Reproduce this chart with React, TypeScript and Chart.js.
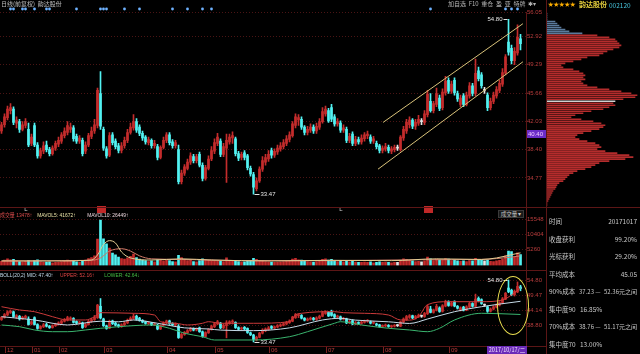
import React, { useEffect, useRef } from "react";
import { Chart, registerables } from "chart.js";

Chart.register(...registerables);

// ---------------- data ----------------
const candleOpen = [
  40.8, 41.6, 42.5, 43.4, 43.6, 41.8, 42.0, 41.0, 41.5, 41.0,
  39.2, 41.5, 39.0, 37.6, 38.2, 39.0, 38.4, 37.9, 38.6, 39.1,
  39.5, 40.2, 40.6, 41.0, 41.2, 40.1, 39.5, 39.6, 38.2, 39.0,
  40.1, 40.8, 41.5, 45.6, 41.0, 38.5, 37.7, 40.3, 39.5, 38.9,
  38.3, 38.9, 39.6, 40.6, 41.2, 42.0, 41.3, 40.5, 40.0, 39.3,
  39.6, 38.9, 38.8, 37.4, 38.7, 39.6, 40.3, 39.4, 38.9, 38.4,
  34.3, 35.4, 36.0, 36.8, 37.5, 37.0, 37.8, 36.4, 34.7, 36.0,
  37.2, 38.2, 39.2, 39.5, 37.8, 38.6, 39.4, 39.9, 39.8, 37.9,
  37.4, 38.0, 37.6, 36.0, 35.2, 33.4, 34.4, 35.9, 36.8, 37.2,
  38.3, 37.7, 38.1, 38.5, 38.8, 39.2, 39.7, 40.2, 41.5, 42.2,
  42.3, 41.3, 40.6, 40.9, 41.3, 40.8, 41.3, 42.0, 43.0, 43.4,
  43.8, 42.6, 41.7, 41.8, 40.9, 41.0, 39.6, 40.4, 39.2, 39.7,
  39.4, 39.8, 40.2, 40.0, 39.5, 39.2, 38.9, 38.3, 38.5, 38.7,
  38.2, 38.4, 38.6, 38.4, 39.9, 40.8, 41.6, 42.2, 41.4, 41.8,
  42.0, 41.9, 42.9, 44.6, 43.4, 44.2, 45.0, 43.8, 45.7, 47.3,
  45.9, 47.3, 45.6, 44.2, 45.3, 44.2, 45.3, 46.6, 45.6, 48.5,
  48.0, 46.0, 45.4, 43.8, 44.6, 45.3, 46.0, 46.8, 48.2, 52.2,
  51.4, 49.8, 50.8, 52.6,
];
const candleHigh = [
  41.9, 43.0, 44.0, 44.3, 43.9, 42.6, 42.3, 42.0, 42.4, 41.8,
  40.4, 41.8, 39.3, 38.6, 39.4, 39.5, 38.7, 38.9, 39.5, 40.0,
  40.6, 41.2, 42.0, 41.8, 41.5, 40.4, 40.2, 39.9, 39.4, 40.5,
  41.3, 42.3, 46.3, 48.4, 41.3, 38.8, 40.6, 40.6, 39.8, 39.2,
  39.3, 40.0, 41.0, 41.8, 42.9, 42.4, 41.6, 40.8, 40.2, 40.0,
  39.8, 39.6, 39.1, 38.9, 40.0, 40.6, 40.6, 39.7, 39.6, 39.0,
  35.8, 36.5, 37.2, 38.0, 37.8, 37.8, 38.1, 36.7, 36.4, 37.6,
  38.8, 39.8, 40.5, 39.8, 39.2, 40.4, 40.4, 40.7, 40.0, 38.2,
  38.1, 38.3, 37.8, 36.3, 35.5, 34.8, 36.2, 37.5, 37.8, 38.3,
  38.6, 38.5, 39.0, 39.3, 39.7, 40.2, 40.7, 42.0, 43.0, 42.9,
  42.6, 41.5, 41.4, 41.7, 41.6, 41.8, 42.4, 43.8, 44.0, 43.7,
  44.2, 42.9, 42.4, 42.1, 41.6, 41.3, 40.5, 40.7, 40.1, 40.0,
  40.3, 40.6, 40.8, 40.3, 40.1, 39.5, 39.1, 38.9, 39.2, 39.0,
  38.8, 39.0, 39.0, 40.2, 41.4, 42.3, 42.6, 42.4, 42.3, 42.8,
  42.4, 43.4, 46.0, 45.6, 44.6, 46.3, 45.4, 46.2, 47.8, 47.6,
  47.2, 47.6, 45.9, 45.4, 45.6, 45.8, 47.0, 46.9, 50.0, 49.0,
  48.3, 46.4, 45.7, 45.0, 45.8, 46.5, 47.3, 48.8, 50.6, 55.1,
  51.8, 51.5, 54.4, 53.2,
];
const candleLow = [
  40.5, 41.3, 42.2, 43.0, 41.6, 41.2, 40.6, 40.8, 41.2, 38.8,
  38.9, 38.8, 37.3, 37.3, 37.9, 38.1, 37.6, 37.7, 38.3, 38.8,
  39.2, 39.9, 40.3, 40.6, 39.5, 39.2, 39.2, 37.6, 37.9, 38.8,
  39.8, 40.5, 41.2, 41.0, 38.3, 37.3, 37.5, 39.0, 38.5, 38.0,
  38.0, 38.6, 39.3, 40.4, 40.9, 40.6, 40.2, 39.6, 39.1, 39.0,
  38.6, 38.6, 37.1, 37.2, 38.5, 39.3, 39.0, 38.6, 38.6, 34.0,
  34.0, 35.1, 35.8, 36.5, 36.7, 36.7, 36.2, 34.4, 34.5, 35.8,
  37.0, 37.9, 38.9, 37.5, 37.5, 34.2, 39.1, 39.2, 37.6, 37.0,
  37.1, 37.1, 35.8, 35.0, 32.7, 33.1, 34.2, 35.6, 36.4, 36.9,
  37.3, 37.4, 37.8, 38.2, 38.5, 38.9, 39.4, 40.0, 41.2, 41.5,
  41.0, 40.3, 40.3, 40.6, 40.5, 40.5, 41.0, 41.8, 42.7, 41.9,
  42.0, 41.4, 41.4, 40.6, 40.6, 39.3, 39.3, 38.9, 38.9, 39.1,
  39.1, 39.5, 39.8, 39.2, 39.2, 38.5, 38.0, 38.0, 38.2, 38.0,
  37.9, 38.1, 38.3, 38.2, 39.6, 40.5, 41.2, 41.1, 41.0, 41.5,
  41.6, 41.6, 42.6, 43.2, 43.1, 43.9, 43.4, 43.5, 45.4, 45.6,
  45.6, 45.4, 44.6, 43.9, 43.9, 44.0, 45.0, 45.3, 45.3, 47.2,
  46.3, 45.6, 43.4, 43.5, 44.3, 45.0, 45.7, 46.5, 48.0, 50.5,
  49.4, 49.3, 50.5, 51.2,
];
const candleClose = [
  41.6, 42.6, 43.6, 43.8, 41.9, 42.2, 41.0, 41.6, 42.0, 39.0,
  40.0, 39.0, 37.6, 38.3, 38.9, 38.4, 37.9, 38.6, 39.2, 39.6,
  40.3, 40.8, 41.5, 41.3, 39.8, 39.5, 39.9, 37.9, 39.0, 40.2,
  40.8, 41.6, 46.0, 41.4, 38.6, 37.6, 40.2, 39.3, 38.8, 38.3,
  38.9, 39.6, 40.6, 41.3, 42.0, 40.9, 40.5, 39.9, 39.4, 39.7,
  38.9, 39.2, 37.4, 38.7, 39.6, 40.3, 39.3, 38.9, 39.3, 34.3,
  35.4, 36.2, 36.8, 37.6, 37.0, 37.5, 36.4, 34.7, 36.1, 37.2,
  38.3, 39.3, 40.0, 37.8, 38.8, 39.6, 40.0, 40.2, 37.9, 37.3,
  37.8, 37.4, 36.1, 35.3, 33.6, 34.4, 35.9, 37.0, 37.4, 37.8,
  37.7, 38.2, 38.6, 38.9, 39.3, 39.8, 40.3, 41.7, 42.6, 42.5,
  41.3, 40.6, 41.0, 41.3, 40.8, 41.4, 42.0, 43.3, 43.6, 42.1,
  42.3, 41.7, 42.0, 40.9, 41.2, 39.6, 40.1, 39.2, 39.7, 39.4,
  39.9, 40.3, 40.4, 39.5, 39.8, 38.8, 38.3, 38.6, 38.8, 38.3,
  38.5, 38.7, 38.6, 40.0, 41.0, 41.9, 42.2, 41.4, 41.9, 42.3,
  42.0, 43.0, 45.5, 43.4, 44.3, 45.6, 43.7, 45.8, 47.2, 45.9,
  46.8, 45.7, 44.9, 45.0, 44.2, 45.4, 46.6, 45.6, 48.2, 47.5,
  46.6, 46.0, 43.8, 44.6, 45.4, 46.1, 46.9, 48.3, 50.3, 50.9,
  49.8, 51.0, 52.8, 52.0,
];
const volumes = [
  1400, 1800, 2200, 1900, 2000, 1500, 1300, 1200, 1400, 1700,
  1300, 1600, 1900, 1200, 1000, 1100, 1200, 900, 1000, 1100,
  1300, 1400, 1800, 1500, 1400, 1200, 1000, 1500, 1800, 2300,
  2600, 3200, 8800, 15200, 8900, 7200, 5800, 4100, 3500, 2800,
  2300, 2100, 2500, 3000, 3800, 2600, 2100, 1800, 1600, 1300,
  1500, 1200, 1900, 1800, 1500, 1700, 1600, 1300, 1200, 3400,
  2600, 1900, 1600, 1700, 1300, 1200, 1600, 2200, 1900, 1700,
  1800, 1600, 1500, 1400, 1300, 2500, 1600, 1400, 1500, 1300,
  1100, 1200, 1500, 1600, 2400, 2000, 1700, 1500, 1300, 1200,
  1100, 1000, 1100, 1200, 1300, 1400, 1500, 2100, 2400, 1900,
  1800, 1500, 1300, 1200, 1100, 1300, 1400, 2000, 2200, 1800,
  2000, 1700, 1300, 1500, 1200, 1600, 1200, 1400, 1100, 1000,
  1000, 1100, 1000, 1200, 900, 1000, 1200, 1000, 1100, 1000,
  900, 1000, 1000, 1600, 2200, 2000, 1700, 1500, 1300, 1400,
  1200, 1500, 2800, 2200, 1600, 2100, 1900, 1800, 2300, 2100,
  1600, 1800, 1500, 1400, 1500, 1300, 1600, 1500, 2400, 2000,
  1900, 1500, 1800, 1400, 1300, 1500, 1700, 2100, 3200, 4800,
  4600, 2800, 4200, 3600,
];

// moving average of volume, read at a few candles: [candle index, value]
const mavol5 = [
  [0, 1500], [20, 1500], [30, 1800], [32, 3500], [34, 7000], [36, 8300], [38, 7500],
  [40, 4500], [43, 2500], [50, 1800], [60, 2200], [70, 1800], [90, 1500], [110, 1700],
  [130, 1600], [145, 2200], [160, 2000], [165, 2500], [170, 3600], [173, 4200],
];
const mavol10 = [
  [0, 1500], [30, 1700], [33, 2500], [36, 4800], [40, 5600], [43, 4800], [46, 3200],
  [50, 2200], [60, 2000], [80, 1600], [110, 1600], [140, 1900], [160, 2000], [170, 2800], [173, 3200],
];

// Bollinger bands: [candle index, price]
const bollUpper = [
  [0, 45.45], [6, 44.26], [11, 43.65], [17, 41.84], [22, 40.65], [28, 40.65], [31, 41.84],
  [33, 43.29], [44, 43.07], [51, 42.45], [53, 40.03], [58, 39.46], [62, 38.84], [67, 39.46],
  [69, 40.03], [73, 39.46], [84, 39.46], [96, 40.03], [98, 42.45], [100, 43.07], [111, 43.65],
  [114, 43.29], [121, 43.07], [129, 42.45], [133, 40.65], [136, 40.6], [139, 41.84], [142, 46.2],
  [149, 47.26], [160, 47.26], [167, 47.87], [170, 49.68], [173, 52.16],
];
const bollMid = [
  [0, 41.84], [11, 40.65], [22, 38.84], [33, 40.2], [39, 40.0], [44, 40.65], [52, 39.46],
  [61, 37.8], [69, 37.4], [73, 37.0], [84, 36.8], [96, 37.8], [107, 40.65], [113, 41.26],
  [118, 40.6], [129, 40.0], [136, 39.4], [142, 41.0], [151, 43.65], [160, 45.45], [173, 47.4],
];
const bollLower = [
  [0, 38.84], [6, 38.23], [11, 37.04], [17, 36.42], [22, 36.42], [28, 37.04], [33, 37.65],
  [39, 38.23], [50, 38.84], [56, 37.65], [61, 35.84], [67, 34.61], [71, 33.42], [84, 33.42],
  [96, 34.61], [102, 36.42], [111, 39.46], [113, 40.03], [120, 38.84], [129, 37.65], [136, 37.04],
  [142, 36.42], [146, 37.65], [151, 40.65], [160, 43.07], [173, 42.64],
];

// trend channel drawn on the price panel: [candle index, price]
const channelUpper = [[127.2, 41.9], [173.8, 54.55]];
const channelLower = [[125.5, 35.9], [173.8, 49.67]];

// chip distribution (cost profile), one value per price level from top to bottom
const chipValues = [
  0, 0, 0, 0,
  8, 10, 12, 14, 18, 22, 35, 50, 62, 68,
  70, 72, 74, 72, 66, 60, 56, 52, 40, 34,
  26, 18, 14, 16, 26, 32, 36, 38, 36, 38,
  34, 36, 40, 50, 62, 74, 84, 90, 88, 76,
  68, 66, 68, 62, 56, 44, 36, 28, 24, 34,
  46, 54, 58, 56, 52, 44, 36, 30, 28, 32,
  40, 48, 52, 54, 50, 58, 70, 82, 86, 78,
  62, 52, 48, 44, 38, 30, 26, 22, 20, 18,
  16, 12, 10, 9, 8, 6, 5, 4, 3, 2,
  1, 0, 0,
];
const chipBlueUntil = 10;
const chipAvgLevel = 44;

// axis ticks
const priceTicks = [56.05, 52.92, 49.29, 45.66, 42.03, 38.4, 34.77];
const volumeTicks = [15548, 10404, 5260];
const bollTicks = [54.8, 49.47, 44.14, 38.8];
const monthTickIdx = [1, 10, 19, 34, 55, 71, 89, 108, 127, 149];
const monthTickText = ["12", "01", "02", "03", "04", "05", "06", "07", "08", "09"];

// event markers
const eventIdx = [3, 4, 7, 8, 11, 15, 16, 25, 33, 34, 35, 41, 46, 57, 62, 67, 70, 143, 168, 170, 172];
const markerIdx = [8, 33, 113, 142];
const markerText = ["L", "", "L", ""];
const markerBoxed = [false, true, false, true];

const highLabel = "54.80";
const lowLabel = "33.47";
const cursorPrice = 40.4;

// ---------------- styling ----------------
const UP = "#c42c2c";
const DOWN = "#52f2f2";
const FLAT = "#e6e6e6";
const AXIS_TXT = "#b83c3c";
const GRID = "#4a1414";
const X_MIN = -0.5;
const X_MAX = 174.83;
const AXIS_W = 20;
const SMALL = '6px "Liberation Sans", Arial, sans-serif';

const idx = candleOpen.map((_, i) => i);
const colorOf = (i: number) =>
  candleClose[i] > candleOpen[i] ? UP : candleClose[i] < candleOpen[i] ? DOWN : FLAT;

const argMax = (a: number[]) => a.reduce((b, v, i) => (v > a[b] ? i : b), 0);
const argMin = (a: number[]) => a.reduce((b, v, i) => (v < a[b] ? i : b), 0);

function candleSets() {
  const colors = idx.map(colorOf);
  return [
    {
      type: "bar",
      data: idx.map((i) => ({ x: i, y: [candleLow[i], candleHigh[i]] })),
      backgroundColor: colors,
      barThickness: 1,
      maxBarThickness: 1,
      grouped: false,
      minBarLength: 1,
      order: 3,
    },
    {
      type: "bar",
      data: idx.map((i) => ({
        x: i,
        y: [Math.min(candleOpen[i], candleClose[i]), Math.max(candleOpen[i], candleClose[i])],
      })),
      backgroundColor: colors,
      barThickness: 2,
      maxBarThickness: 2,
      grouped: false,
      minBarLength: 1,
      order: 2,
    },
  ];
}

function lineSet(pts: number[][], color: string, order = 1) {
  return {
    type: "line",
    data: pts.map(([x, y]) => ({ x, y })),
    borderColor: color,
    borderWidth: 1,
    pointRadius: 0,
    fill: false,
    cubicInterpolationMode: "monotone",
    order,
  };
}

function xHidden() {
  return { type: "linear", min: X_MIN, max: X_MAX, offset: false, display: false };
}

function yRight(min: number, max: number, ticks: number[], fmt: (v: any) => string) {
  return {
    position: "right",
    min,
    max,
    afterFit: (s: any) => {
      s.width = AXIS_W;
    },
    afterBuildTicks: (s: any) => {
      s.ticks = ticks.map((v) => ({ value: v }));
    },
    ticks: { color: AXIS_TXT, font: { size: 6 }, padding: 1, callback: fmt },
    grid: { color: GRID, drawTicks: false, lineWidth: 1 },
    border: { display: false, dash: [1, 2] },
  };
}

const baseOpts = {
  responsive: false,
  animation: false,
  devicePixelRatio: 1,
  plugins: { legend: { display: false }, tooltip: { enabled: false } },
};

function drawExtremes(chart: any) {
  const { ctx } = chart;
  const xs = chart.scales.x;
  const ys = chart.scales.y;
  const hi = argMax(candleHigh);
  const lo = argMin(candleLow);
  ctx.save();
  ctx.font = SMALL;
  ctx.fillStyle = "#e4e4e4";
  ctx.strokeStyle = "#e4e4e4";
  ctx.lineWidth = 1;
  ctx.textBaseline = "middle";
  let x = xs.getPixelForValue(hi);
  let y = Math.round(ys.getPixelForValue(candleHigh[hi])) + 0.5;
  ctx.beginPath();
  ctx.moveTo(x - 1, y);
  ctx.lineTo(x - 5, y);
  ctx.stroke();
  ctx.textAlign = "right";
  ctx.fillText(highLabel, x - 6, y);
  x = xs.getPixelForValue(lo);
  y = Math.round(ys.getPixelForValue(candleLow[lo])) + 0.5;
  ctx.beginPath();
  ctx.moveTo(x + 1, y);
  ctx.lineTo(x + 6, y);
  ctx.stroke();
  ctx.textAlign = "left";
  ctx.fillText(lowLabel, x + 7, y);
  ctx.restore();
}

const mainMarks = {
  id: "mainMarks",
  afterDatasetsDraw(chart: any) {
    const { ctx, chartArea: a } = chart;
    const xs = chart.scales.x;
    const ys = chart.scales.y;
    ctx.save();
    ctx.fillStyle = "#6eb2ff";
    eventIdx.forEach((i) => {
      ctx.beginPath();
      ctx.arc(xs.getPixelForValue(i), a.top - 3, 1.4, 0, Math.PI * 2);
      ctx.fill();
    });
    const y = ys.getPixelForValue(cursorPrice);
    ctx.fillStyle = "#6a2cc8";
    ctx.fillRect(a.right + 1, Math.round(y) - 4, 19, 8);
    ctx.fillStyle = "#f0c8ff";
    ctx.font = SMALL;
    ctx.textBaseline = "middle";
    ctx.textAlign = "left";
    ctx.fillText(cursorPrice.toFixed(2), a.right + 2, Math.round(y));
    ctx.restore();
    drawExtremes(chart);
  },
};

const volMarks = {
  id: "volMarks",
  afterDatasetsDraw(chart: any) {
    const { ctx } = chart;
    const xs = chart.scales.x;
    ctx.save();
    ctx.font = SMALL;
    ctx.textAlign = "center";
    ctx.textBaseline = "middle";
    markerIdx.forEach((i, k) => {
      const x = Math.round(xs.getPixelForValue(i));
      if (markerBoxed[k]) {
        ctx.fillStyle = "#c02828";
        ctx.fillRect(x - 4, 0, 9, 7);
        ctx.fillStyle = "#ffffff";
        ctx.fillText(markerText[k], x + 0.5, 3.5);
      } else {
        ctx.fillStyle = "#d0d0d0";
        ctx.fillText(markerText[k], x, 3.5);
      }
    });
    ctx.restore();
  },
};

const bollMarks = {
  id: "bollMarks",
  afterDatasetsDraw(chart: any) {
    const { ctx, chartArea: a } = chart;
    const xs = chart.scales.x;
    drawExtremes(chart);
    ctx.save();
    ctx.font = SMALL;
    ctx.textBaseline = "top";
    ctx.textAlign = "left";
    monthTickIdx.forEach((v, k) => {
      const x = Math.round(xs.getPixelForValue(v));
      ctx.fillStyle = "#7a2020";
      ctx.fillRect(x, a.bottom + 1, 1, 6);
      ctx.fillStyle = AXIS_TXT;
      ctx.fillText(monthTickText[k], x + 2, a.bottom + 1.5);
    });
    ctx.restore();
  },
};

function buildMain(): any {
  return {
    type: "bar",
    data: {
      datasets: [
        ...candleSets(),
        lineSet(channelUpper, "#d8c27a", 1),
        lineSet(channelLower, "#d8c27a", 1),
      ],
    },
    options: {
      ...baseOpts,
      layout: { padding: { top: 12, left: 0, right: 0, bottom: 0 } },
      scales: {
        x: xHidden(),
        y: yRight(31.77, 56.05, priceTicks, (v) => Number(v).toFixed(2)),
      },
    },
    plugins: [mainMarks],
  };
}

function buildVolume(): any {
  const colors = idx.map(colorOf);
  return {
    type: "bar",
    data: {
      datasets: [
        {
          type: "bar",
          data: idx.map((i) => ({ x: i, y: volumes[i] })),
          backgroundColor: colors,
          barThickness: 2,
          maxBarThickness: 2,
          grouped: false,
          order: 2,
        },
        lineSet(mavol5, "#e2cc92", 1),
        lineSet(mavol10, "#d07a68", 1),
      ],
    },
    options: {
      ...baseOpts,
      layout: { padding: { top: 13, left: 0, right: 0, bottom: 2 } },
      scales: {
        x: xHidden(),
        y: yRight(0, 15548, volumeTicks, (v) => String(v)),
      },
    },
    plugins: [volMarks],
  };
}

function buildBoll(): any {
  return {
    type: "bar",
    data: {
      datasets: [
        ...candleSets(),
        lineSet(bollUpper, "#cc3a3a", 1),
        lineSet(bollMid, "#c6dbe8", 1),
        lineSet(bollLower, "#3ab46e", 1),
      ],
    },
    options: {
      ...baseOpts,
      layout: { padding: { top: 7, left: 0, right: 0, bottom: 8 } },
      scales: {
        x: xHidden(),
        y: yRight(31.25, 56.18, bollTicks, (v) => Number(v).toFixed(2)),
      },
    },
    plugins: [bollMarks],
  };
}

function buildChip(): any {
  return {
    type: "bar",
    data: {
      labels: chipValues.map((_, k) => String(k)),
      datasets: [
        {
          data: chipValues,
          backgroundColor: chipValues.map((_, k) =>
            k <= chipBlueUntil ? "#5a7a9c" : k === chipAvgLevel ? "#d0d0d0" : "#b42c2c"
          ),
          barThickness: 1,
          maxBarThickness: 1,
        },
      ],
    },
    options: {
      ...baseOpts,
      indexAxis: "y",
      layout: { padding: { top: 12.5, left: 0, right: 0, bottom: 0 } },
      scales: {
        x: { min: 0, max: 93, display: false },
        y: { display: false },
      },
    },
  };
}

// ---------------- layout helpers ----------------
function Txt(props: any) {
  const { x, y, r, s = 6, c = "#c8c8c8", sx, b, children } = props;
  const st: any = {
    position: "absolute",
    top: y,
    fontSize: s,
    color: c,
    lineHeight: 1,
    whiteSpace: "nowrap",
  };
  if (r !== undefined) st.right = r;
  else st.left = x;
  if (sx) {
    st.transform = `scaleX(${sx})`;
    st.transformOrigin = r !== undefined ? "right center" : "left center";
  }
  if (b) st.fontWeight = "bold";
  return <div style={st}>{children}</div>;
}

function Line(props: any) {
  const { x, y, w, h, c = "#5c1616" } = props;
  return <div style={{ position: "absolute", left: x, top: y, width: w, height: h, background: c }} />;
}

export default function App() {
  const mainRef = useRef<HTMLCanvasElement | null>(null);
  const volRef = useRef<HTMLCanvasElement | null>(null);
  const bollRef = useRef<HTMLCanvasElement | null>(null);
  const chipRef = useRef<HTMLCanvasElement | null>(null);

  useEffect(() => {
    Chart.defaults.font.family = '"Liberation Sans", Arial, sans-serif';
    const charts = [
      new Chart(mainRef.current as HTMLCanvasElement, buildMain()),
      new Chart(volRef.current as HTMLCanvasElement, buildVolume()),
      new Chart(bollRef.current as HTMLCanvasElement, buildBoll()),
      new Chart(chipRef.current as HTMLCanvasElement, buildChip()),
    ];
    return () => charts.forEach((c) => c.destroy());
  }, []);

  const cjk = '"Noto Sans CJK SC", "Noto Sans", sans-serif';
  const lat = '"Liberation Sans", Arial, sans-serif';
  const rowY = [218, 235.5, 253, 270.5, 288, 305.5, 323, 340.5];

  return (
    <div
      style={{
        position: "fixed",
        left: 0,
        top: 0,
        width: 640,
        height: 354,
        background: "#000",
        overflow: "hidden",
        fontFamily: cjk,
      }}
    >
      <canvas ref={mainRef} width={546} height={206} style={{ position: "absolute", left: 0, top: 0, width: 546, height: 206 }} />
      <canvas ref={volRef} width={546} height={64} style={{ position: "absolute", left: 0, top: 206, width: 546, height: 64 }} />
      <canvas ref={bollRef} width={546} height={84} style={{ position: "absolute", left: 0, top: 270, width: 546, height: 84 }} />
      <canvas ref={chipRef} width={93} height={206} style={{ position: "absolute", left: 547, top: 0, width: 93, height: 206 }} />

      {/* separators */}
      <Line x={526} y={12} w={1} h={342} />
      <Line x={546} y={0} w={1} h={354} />
      <Line x={0} y={207} w={640} h={1} />
      <Line x={0} y={270} w={546} h={1} />
      <Line x={0} y={346} w={546} h={1} />

      {/* top header */}
      <Txt x={1} y={1} s={6} c="#bdbdbd">日线(前复权)&nbsp;&nbsp;韵达股份</Txt>
      <Txt x={448} y={1} s={6} c="#b4b4b4">加自选&nbsp;&nbsp;F10&nbsp;&nbsp;重仓&nbsp;&nbsp;盈&nbsp;&nbsp;亚&nbsp;&nbsp;特牌&nbsp;&nbsp;✱▾</Txt>
      <Txt x={548} y={1.5} s={5.5} c="#ffb000">★★★★★</Txt>
      <Txt x={579} y={0.5} s={7} c="#e6cf3c" b>韵达股份</Txt>
      <Txt x={609} y={1.5} s={6.5} c="#46c4dc">002120</Txt>

      {/* volume header */}
      <div style={{ position: "absolute", left: 0, top: 212, fontSize: 6, lineHeight: 1, whiteSpace: "nowrap", transform: "scaleX(0.82)", transformOrigin: "left center", fontFamily: lat }}>
        <span style={{ color: "#d84a4a", fontFamily: cjk }}>成交量</span>
        <span style={{ color: "#d84a4a" }}> 13478↑</span>
        <span style={{ color: "#ece4a8", marginLeft: 6 }}>MAVOL5: 41672↑</span>
        <span style={{ color: "#ead4dc", marginLeft: 14 }}>MAVOL10: 26449↑</span>
      </div>
      <div style={{ position: "absolute", left: 498, top: 210, width: 26, height: 8, background: "#1a1a1a", border: "1px solid #3a3a3a", boxSizing: "border-box", color: "#c0c0c0", fontSize: 5.5, lineHeight: "6px", textAlign: "center", whiteSpace: "nowrap" }}>
        成交量 ▾
      </div>

      {/* BOLL header */}
      <div style={{ position: "absolute", left: 0, top: 272, fontSize: 6, lineHeight: 1, whiteSpace: "nowrap", transform: "scaleX(0.82)", transformOrigin: "left center", fontFamily: lat }}>
        <span style={{ color: "#c4dcec" }}>BOLL(20,2) MID: 47.40↑</span>
        <span style={{ color: "#e04444", marginLeft: 8 }}>UPPER: 52.16↑</span>
        <span style={{ color: "#44c044", marginLeft: 12 }}>LOWER: 42.64↓</span>
      </div>

      {/* highlight ellipse */}
      <div style={{ position: "absolute", left: 497, top: 276, width: 32, height: 59, border: "1.5px solid #ece050", borderRadius: "50%", boxSizing: "border-box" }} />

      {/* current date tag */}
      <div style={{ position: "absolute", left: 487, top: 346, width: 40, height: 8, background: "#6a2ab8", color: "#f0e0ff", fontSize: 5.5, lineHeight: "8px", textAlign: "center", whiteSpace: "nowrap" }}>
        2017/10/17/二
      </div>

      {/* chip info panel */}
      <Txt x={549} y={rowY[0]} s={6.5}>时间</Txt>
      <Txt r={3} y={rowY[0]} s={6.5}>20171017</Txt>
      <Txt x={549} y={rowY[1]} s={6.5}>收盘获利</Txt>
      <Txt r={3} y={rowY[1]} s={6.5}>99.20%</Txt>
      <Txt x={549} y={rowY[2]} s={6.5}>光标获利</Txt>
      <Txt r={3} y={rowY[2]} s={6.5}>29.20%</Txt>
      <Txt x={549} y={rowY[3]} s={6.5}>平均成本</Txt>
      <Txt r={3} y={rowY[3]} s={6.5}>45.05</Txt>
      <Txt x={549} y={rowY[4]} s={6.5}>90%成本</Txt>
      <Txt x={579} y={rowY[4] + 0.5} s={6}>37.23 —</Txt>
      <Txt r={3} y={rowY[4] + 0.5} s={6}>52.36元之间</Txt>
      <Txt x={549} y={rowY[5]} s={6.5}>集中度90</Txt>
      <Txt x={580} y={rowY[5]} s={6.5}>16.85%</Txt>
      <Txt x={549} y={rowY[6]} s={6.5}>70%成本</Txt>
      <Txt x={579} y={rowY[6] + 0.5} s={6}>38.76 —</Txt>
      <Txt r={3} y={rowY[6] + 0.5} s={6}>51.17元之间</Txt>
      <Txt x={549} y={rowY[7]} s={6.5}>集中度70</Txt>
      <Txt x={580} y={rowY[7]} s={6.5}>13.00%</Txt>
    </div>
  );
}
